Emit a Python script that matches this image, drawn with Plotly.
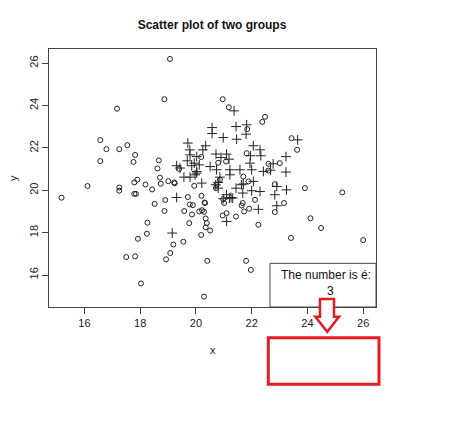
import plotly.graph_objects as go

# group 1: open circles
circle_x = [19.07, 18.87, 17.17, 16.57, 16.79, 17.25, 17.54, 17.82, 16.57, 17.76, 18.67, 18.62,
            18.71, 17.90, 19.40, 20.19, 20.80, 20.96, 21.18, 22.48, 22.38, 21.84, 23.43, 23.63,
            21.82, 22.60, 22.60, 21.70, 15.18, 16.11, 17.25, 17.25, 17.79, 17.79, 17.85, 18.19,
            18.43, 18.74, 19.01, 19.22, 19.24, 18.52, 18.90, 18.87, 18.26, 18.24, 17.92, 17.50,
            17.82, 18.03, 18.93, 19.08, 19.19, 19.55, 19.58, 19.71, 19.78, 19.89, 19.86, 19.76,
            19.94, 20.20, 20.33, 20.12, 20.22, 20.29, 20.35, 20.39, 20.35, 20.51, 20.19, 20.41,
            20.29, 20.74, 20.72, 20.31, 21.80, 21.97, 22.83, 22.83, 23.16, 23.91, 24.11, 24.49,
            25.25, 23.41, 26.00, 22.24, 22.12, 21.64, 21.73, 21.91, 21.44, 20.96, 21.10, 20.98,
            21.01, 23.01, 21.08, 21.68, 20.86, 21.89]
circle_y = [26.20, 24.30, 23.85, 22.37, 21.94, 21.94, 22.13, 21.67, 21.38, 21.34, 21.41, 21.03,
            20.60, 20.50, 21.01, 21.57, 21.30, 24.30, 23.92, 23.47, 23.23, 22.89, 22.46, 21.91,
            21.75, 21.25, 20.93, 20.65, 19.65, 20.20, 20.13, 19.98, 20.37, 19.83, 19.83, 20.27,
            20.04, 20.31, 20.43, 20.37, 20.33, 19.36, 19.54, 19.02, 18.47, 17.95, 17.71, 16.85,
            16.88, 15.60, 16.74, 17.04, 17.44, 17.57, 19.02, 19.68, 19.33, 19.30, 18.86, 18.45,
            20.21, 19.74, 19.40, 19.00, 19.06, 18.98, 18.67, 18.45, 18.25, 18.10, 17.89, 16.67,
            14.98, 20.26, 20.10, 19.42, 16.67, 16.24, 20.29, 18.97, 19.40, 20.10, 18.68, 18.22,
            19.90, 17.75, 17.65, 18.37, 19.55, 19.28, 19.00, 19.13, 18.76, 18.81, 18.92, 19.58,
            19.40, 21.28, 21.36, 19.40, 20.50, 20.42]

# group 2: crosses
cross_x = [20.58, 20.58, 19.71, 19.78, 20.35, 20.25, 19.79, 20.03, 20.72, 19.31, 19.85, 21.37,
           21.44, 21.82, 21.80, 20.98, 21.46, 23.65, 22.06, 22.30, 22.33, 21.96, 23.23, 22.77,
           22.68, 23.23, 21.10, 20.90, 21.19, 21.94, 19.69, 19.94, 20.12, 19.43, 20.03, 20.51,
           20.74, 21.22, 21.58, 22.00, 22.42, 19.57, 19.79, 20.86, 21.22, 20.21, 20.80, 21.64,
           21.70, 22.06, 22.00, 21.44, 20.80, 21.10, 21.32, 21.20, 21.26, 21.68, 22.30, 22.90,
           23.25, 22.83, 22.90, 19.31, 20.98, 21.10, 22.24, 19.97, 20.03, 19.15, 20.71]
cross_y = [22.96, 22.68, 22.23, 21.91, 22.10, 21.91, 21.67, 21.59, 21.71, 21.16, 21.16, 23.75,
           23.01, 23.09, 22.65, 22.49, 22.41, 22.38, 22.10, 21.91, 21.63, 21.63, 21.59, 21.25,
           20.95, 20.86, 21.71, 21.55, 21.47, 21.28, 21.39, 21.28, 21.20, 21.05, 20.89, 21.12,
           20.97, 20.97, 20.97, 20.97, 20.89, 20.62, 20.62, 20.62, 20.73, 20.34, 20.37, 20.26,
           20.30, 20.42, 19.98, 20.10, 20.10, 19.79, 19.63, 19.63, 19.66, 19.87, 19.94, 20.18,
           20.02, 19.79, 19.27, 19.66, 19.60, 18.53, 19.10, 20.73, 20.81, 17.98, 20.26]

x_ticks = [16, 18, 20, 22, 24, 26]
y_ticks = [16, 18, 20, 22, 24, 26]
legend_lines = ["The number is é:", "3"]

FONT = "Liberation Sans, Arial, sans-serif"
INK = "#222222"
RED = "#e31b23"

fig = go.Figure()
fig.add_trace(go.Scatter(
    x=circle_x, y=circle_y, mode="markers",
    marker=dict(symbol="circle-open", size=5, color=INK, line=dict(width=1, color=INK)),
))
fig.add_trace(go.Scatter(
    x=cross_x, y=cross_y, mode="markers",
    marker=dict(symbol="cross-thin", size=7, color=INK, line=dict(width=1, color=INK)),
))

axis_common = dict(
    showline=True, mirror=True, linecolor="#444444", linewidth=1,
    showgrid=False, zeroline=False, ticks="outside", ticklen=6,
    tickcolor="#444444", tickfont=dict(family=FONT, size=11, color=INK),
)
fig.update_xaxes(range=[14.73, 26.46], tickvals=x_ticks, **axis_common)
fig.update_yaxes(range=[14.49, 26.67], tickvals=y_ticks, tickangle=-90, **axis_common)


def px_x(p):
    return (p - 49) / 327.0


def px_y(p):
    return (307 - p) / 258.0


# legend box inside the plot, bottom right
fig.add_shape(type="rect", xref="paper", yref="paper",
              x0=px_x(270), x1=1, y0=0, y1=px_y(263.3),
              line=dict(color="#444444", width=1), fillcolor="white", layer="above")
fig.add_annotation(text=legend_lines[0], xref="paper", yref="paper",
                   x=px_x(326), y=px_y(274.5), xanchor="center", yanchor="middle",
                   showarrow=False, font=dict(family=FONT, size=12, color="#111"))
fig.add_annotation(text=legend_lines[1], xref="paper", yref="paper",
                   x=px_x(330.5), y=px_y(291), xanchor="center", yanchor="middle",
                   showarrow=False, font=dict(family=FONT, size=12, color="#111"))

# hollow red arrow and red box below
pts = [(320, 299), (334, 299), (334, 316.7), (339, 316.7),
       (327.3, 331.7), (315.3, 316.7), (320, 316.7)]
path = "M " + " L ".join(f"{px_x(a):.4f},{px_y(b):.4f}" for a, b in pts) + " Z"
fig.add_shape(type="path", xref="paper", yref="paper", path=path,
              line=dict(color=RED, width=2.5), fillcolor="white", layer="above")
fig.add_shape(type="rect", xref="paper", yref="paper",
              x0=px_x(268.3), x1=px_x(379), y0=px_y(384.3), y1=px_y(337.7),
              line=dict(color=RED, width=3), fillcolor="rgba(0,0,0,0)")

# axis titles
fig.add_annotation(text="x", xref="paper", yref="paper", x=0.5, y=px_y(350),
                   xanchor="center", yanchor="middle",
                   showarrow=False, font=dict(family=FONT, size=11, color=INK))
fig.add_annotation(text="y", xref="paper", yref="paper", x=px_x(13), y=0.5,
                   xanchor="center", yanchor="middle",
                   showarrow=False, textangle=-90, font=dict(family=FONT, size=11, color=INK))

# page body adds an 8px offset, so margins are shifted by 8
fig.update_layout(
    width=474, height=443,
    margin=dict(l=41, r=106, t=41, b=144),
    paper_bgcolor="white", plot_bgcolor="white",
    showlegend=False,
    title=dict(text="<b>Scatter plot of two groups</b>", x=px_x(212), xref="paper",
               xanchor="center", y=1 - 17 / 443, yanchor="middle",
               font=dict(family=FONT, size=12, color="#111")),
)

fig.write_html("out.html")
